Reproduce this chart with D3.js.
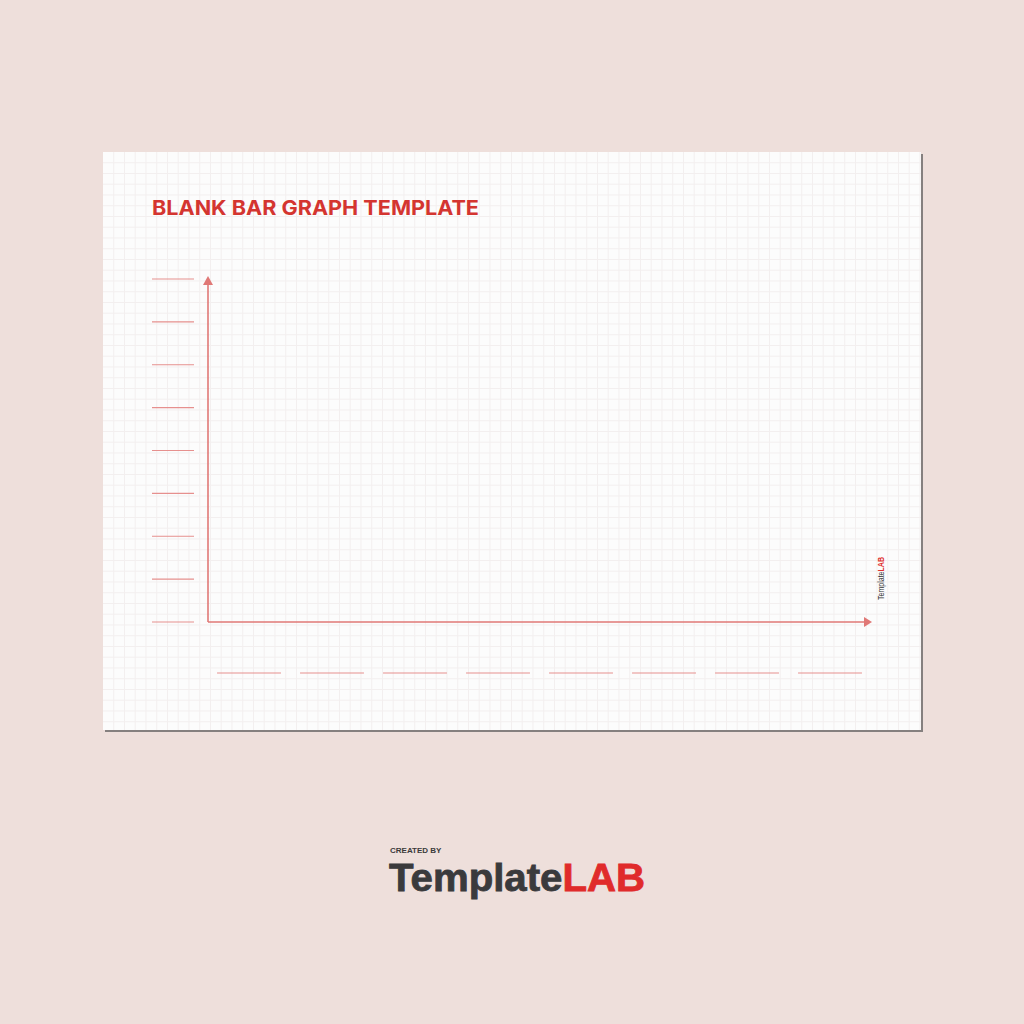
<!DOCTYPE html>
<html><head><meta charset="utf-8">
<script src="https://cdn.jsdelivr.net/npm/d3@7"></script>
<style>html,body{margin:0;padding:0;background:#eedfdb;}svg{display:block;}</style>
</head><body>
<svg id="c" width="1024" height="1024"></svg>
<script>
// Blank template: category slots and y-tick slots have empty labels
const chartTitle = "BLANK BAR GRAPH TEMPLATE";
const xCategories = ["", "", "", "", "", "", "", ""];
const yTickLabels = ["", "", "", "", "", "", "", "", ""];
const yTickValues = [0, 1, 2, 3, 4, 5, 6, 7, 8];
const barValues = [];   // blank: no bars

const svg = d3.select("#c");
const paper = {x: 103, y: 152, w: 818, h: 578};

// shadow
svg.append("rect").attr("x", paper.x + 2).attr("y", paper.y + 2).attr("width", paper.w).attr("height", paper.h).attr("fill", "#85807f");
svg.append("rect").attr("x", paper.x).attr("y", paper.y).attr("width", paper.w).attr("height", paper.h).attr("fill", "#fcfcfc");

// grid
const cell = 10.75;
const g = svg.append("g");
const gx = d3.range(paper.x + cell, paper.x + paper.w, cell);
const gy = d3.range(paper.y + cell, paper.y + paper.h, cell);
g.selectAll("line.v").data(gx).join("line").attr("x1", d => d).attr("x2", d => d)
  .attr("y1", paper.y).attr("y2", paper.y + paper.h).attr("stroke", "#f3efef").attr("stroke-width", 1);
g.selectAll("line.h").data(gy).join("line").attr("y1", d => d).attr("y2", d => d)
  .attr("x1", paper.x).attr("x2", paper.x + paper.w).attr("stroke", "#f3efef").attr("stroke-width", 1);

// scales
const x = d3.scaleBand().domain(d3.range(xCategories.length)).range([207.5, 871.5]).paddingInner(0.23).paddingOuter(0.115);
const y = d3.scaleLinear().domain([0, 8]).range([622, 279]);

const axisColor = "#e07876";
// y-axis line & arrow
svg.append("line").attr("x1", 208).attr("x2", 208).attr("y1", y(0)).attr("y2", y(8) + 4).attr("stroke", axisColor).attr("stroke-width", 1.6);
svg.append("path").attr("d", `M203,${y(8)+6} L208,${y(8)-3} L213,${y(8)+6} Z`).attr("fill", axisColor);
// x-axis line & arrow
svg.append("line").attr("x1", 208).attr("x2", 866).attr("y1", y(0)).attr("y2", y(0)).attr("stroke", axisColor).attr("stroke-width", 1.6);
svg.append("path").attr("d", `M864,${y(0)-5} L872,${y(0)} L864,${y(0)+5} Z`).attr("fill", axisColor);

// y tick label blanks
svg.append("g").selectAll("line").data(yTickValues).join("line")
  .attr("x1", 152).attr("x2", 194).attr("y1", d => y(d)).attr("y2", d => y(d))
  .attr("stroke", "#e6908e").attr("stroke-width", 1.2);
svg.append("g").selectAll("text").data(yTickValues).join("text")
  .attr("x", 150).attr("y", d => y(d) - 3).attr("text-anchor", "end").attr("font-size", 11)
  .text((d, i) => yTickLabels[i]);

// x category blanks
svg.append("g").selectAll("line").data(xCategories.map((c, i) => i)).join("line")
  .attr("x1", d => x(d)).attr("x2", d => x(d) + x.bandwidth()).attr("y1", 673).attr("y2", 673)
  .attr("stroke", "#e6908e").attr("stroke-width", 1.2);
svg.append("g").selectAll("text").data(xCategories.map((c, i) => i)).join("text")
  .attr("x", d => x(d) + x.bandwidth() / 2).attr("y", 669).attr("text-anchor", "middle").attr("font-size", 11)
  .text(d => xCategories[d]);

// bars (none)
svg.append("g").selectAll("rect").data(barValues).join("rect")
  .attr("x", (d, i) => x(i)).attr("width", x.bandwidth()).attr("y", d => y(d)).attr("height", d => y(0) - y(d)).attr("fill", axisColor);

// title
svg.append("text").attr("x", 152).attr("y", 215).attr("font-family", "Inter, 'Open Sans', sans-serif")
  .attr("font-weight", 700).attr("font-size", 20.5).attr("fill", "#d43530").attr("textLength", 327).attr("lengthAdjust", "spacingAndGlyphs")
  .text(chartTitle);

// small vertical brand
const vb = svg.append("text").attr("transform", "translate(884,600) rotate(-90)").attr("font-family", "'Liberation Sans', Arial, sans-serif")
  .attr("font-size", 8.5).attr("font-weight", 400).attr("textLength", 43).attr("lengthAdjust", "spacingAndGlyphs");
vb.append("tspan").attr("fill", "#333").text("Template");
vb.append("tspan").attr("fill", "#e0312d").attr("font-weight", 700).text("LAB");

// bottom logo
svg.append("text").attr("x", 390).attr("y", 853).attr("font-family", "'Liberation Sans', Arial, sans-serif")
  .attr("font-weight", 700).attr("font-size", 8).attr("fill", "#3a3a3a").text("CREATED BY");
const logo = svg.append("text").attr("x", 389).attr("y", 891).attr("font-family", "'Liberation Sans', Arial, sans-serif")
  .attr("font-weight", 700).attr("font-size", 38).attr("textLength", 256).attr("lengthAdjust", "spacingAndGlyphs")
  .attr("stroke-width", 0.8);
logo.append("tspan").attr("fill", "#3a3a3c").attr("stroke", "#3a3a3c").text("Template");
logo.append("tspan").attr("fill", "#e02b2b").attr("stroke", "#e02b2b").text("LAB");
</script>
</body></html>
